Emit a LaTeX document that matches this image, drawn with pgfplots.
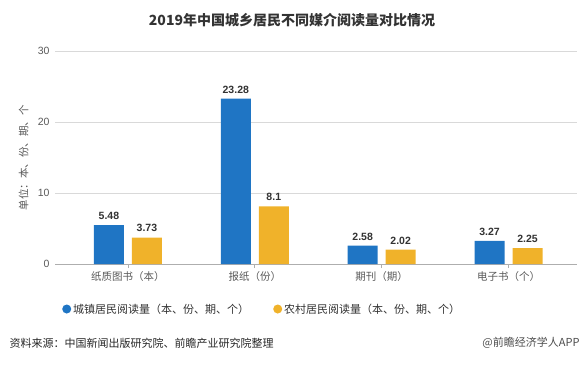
\documentclass[border=0pt]{standalone}
\usepackage{pgfplots}
\pgfplotsset{compat=1.18}
\usepackage{fontspec}
\setmainfont{Noto Sans CJK SC}
\newfontfamily\numfont{Liberation Sans}
\definecolor{cblue}{RGB}{31,117,196}
\definecolor{corange}{RGB}{240,178,42}
\definecolor{tgray}{RGB}{89,89,89}
\definecolor{ggray}{RGB}{217,217,217}
\begin{document}
\begin{tikzpicture}[x=1pt,y=1pt]
\useasboundingbox (0pt,0pt) rectangle (585pt,-366pt);
\node[font=\fontsize{14}{16}\selectfont\bfseries, text=black!80] at (292pt,-20pt) {2019年中国城乡居民不同媒介阅读量对比情况};
\begin{axis}[
  at={(55pt,-264pt)}, anchor=south west,
  scale only axis, width=522pt, height=213pt,
  xmin=-0.575, xmax=3.54, ymin=0, ymax=30,
  ytick={0,10,20,30},
  xtick={0,1,2,3},
  xticklabels={纸质图书（本）,报纸（份）,期刊（期）,电子书（个）},
  x tick label style={font=\fontsize{10.5}{12}\selectfont, text=tgray},
  y tick label style={font=\numfont\fontsize{10.5}{12}\selectfont, text=tgray, xshift=-2pt},
  /pgf/number format/assume math mode=true,
  major tick length=4pt, xtick align=outside,
  x tick style={draw=ggray!80!black, line width=0.6pt},
  y tick style={draw=none},
  axis x line*=bottom, axis y line*=left,
  y axis line style={draw=none},
  x axis line style={draw=ggray!80!black, line width=0.8pt},
  ymajorgrids, grid style={draw=ggray, line width=0.6pt},
  ylabel={单位：本、份、期、个},
  every axis y label/.style={at={(axis description cs:-0.06,0.5)}, rotate=90, anchor=center,
    font=\fontsize{10.5}{12}\selectfont, text=tgray},
  ybar, bar width=30pt,
  nodes near coords,
  every node near coord/.append style={font=\numfont\bfseries\fontsize{10.5}{12}\selectfont, text=black!80, yshift=2pt},
  legend style={at={(axis description cs:0.397,-0.216)}, anchor=center, draw=none, legend columns=2,
    font=\fontsize{11}{13}\selectfont, text=black!80,
    /tikz/every even column/.append style={column sep=22pt}},
  legend image code/.code={\fill[#1] (0.2em,0.1em) circle (4.5pt);},
  clip=false,
]
\addplot[fill=cblue, draw=none, bar shift=-19pt] coordinates {(0,5.48) (1,23.28) (2,2.58) (3,3.27)};
\addplot[fill=corange, draw=none, bar shift=19pt] coordinates {(0,3.73) (1,8.1) (2,2.02) (3,2.25)};
\legend{城镇居民阅读量（本、份、期、个）,农村居民阅读量（本、份、期、个）}
\end{axis}
\node[anchor=west, font=\fontsize{11}{13}\selectfont, text=black!85] at (6pt,-343pt) {资料来源：中国新闻出版研究院、前瞻产业研究院整理};
\node[anchor=east, font=\fontsize{11}{13}\selectfont, text=black!70] at (583pt,-343pt) {@前瞻经济学人APP};
\end{tikzpicture}
\end{document}
